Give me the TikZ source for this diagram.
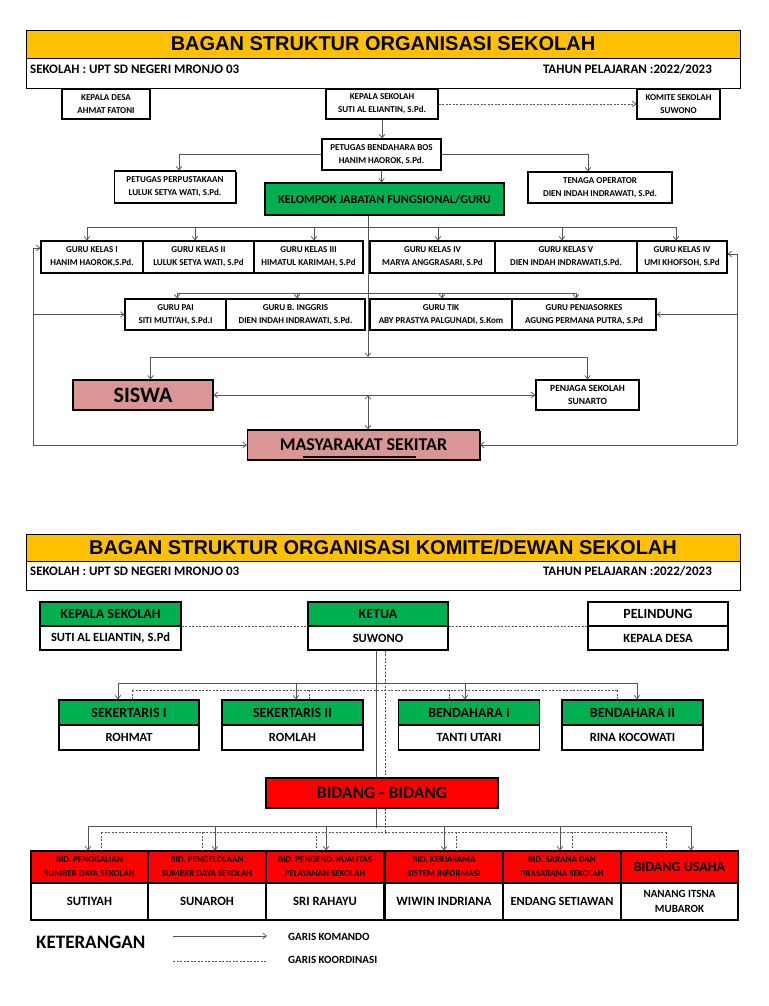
\documentclass[tikz,border=0pt]{standalone}
\usepackage{fontspec}
\setmainfont{Carlito}
\newfontfamily\arialfont{Liberation Sans}
\usetikzlibrary{arrows.meta,shadows}
\definecolor{orng}{HTML}{FFC000}
\definecolor{grn}{HTML}{00B050}
\definecolor{rose}{HTML}{DA9694}
\definecolor{redb}{HTML}{FF0000}
\definecolor{ln}{HTML}{555555}
\newcommand\myfs[2]{\fontsize{#1}{#2}\selectfont\bfseries}
\begin{document}
\begin{tikzpicture}[x=1pt,y=-1pt,
  >={Straight Barb[length=3.5pt,width=5.5pt]},
  ebox/.style={draw=black,line width=1.1pt,fill=white,inner sep=0pt,align=center,font=\myfs{9}{13}},
  sbox/.style={ebox,drop shadow={shadow xshift=1pt,shadow yshift=-1pt,fill=black,opacity=1}},
  kbox/.style={draw=black,line width=1.1pt,inner sep=0pt,align=center},
  titlebar/.style={draw=black,line width=.8pt,fill=orng,minimum width=714pt,inner sep=0pt,font=\arialfont\myfs{20}{22}},
  headbox/.style={draw=black,line width=.8pt,fill=white,minimum width=714pt,inner sep=0pt},
  headtxt/.style={inner sep=0pt,font=\myfs{13}{14}},
  cmd/.style={draw=ln,line width=.7pt,->},
  solidln/.style={draw=ln,line width=.7pt},
  dbl/.style={draw=ln,line width=.7pt,<->},
  koord/.style={draw=ln,line width=.7pt,dash pattern=on 2pt off 1.5pt},
]
\fill[white] (0,0) rectangle (768,1006);
\useasboundingbox (0,0) rectangle (768,1006);

% ================= SECTION 1 =================
\node[titlebar,minimum height=28pt] (t1) at (383,44) {BAGAN STRUKTUR ORGANISASI SEKOLAH};
\node[headbox,minimum height=30pt] (h1) at (383,73) {};
\node[headtxt,anchor=west] (h1l) at (30,69) {SEKOLAH : UPT SD NEGERI MRONJO 03};
\node[headtxt,anchor=east] (h1r) at (712,69) {TAHUN PELAJARAN :2022/2023};

% trunk and buses (drawn under boxes)
\coordinate (j1) at (368,228);
\coordinate (j3) at (368,357);
\coordinate (mid) at (368,395);

\node[sbox,minimum width=88pt,minimum height=30pt] (kdesa) at (106,104) {KEPALA DESA\\AHMAT FATONI};
\node[sbox,minimum width=112pt,minimum height=30pt] (ksek) at (382,104) {KEPALA SEKOLAH\\SUTI AL ELIANTIN, S.Pd.};
\node[sbox,minimum width=83pt,minimum height=30pt] (komite) at (678.5,104) {KOMITE SEKOLAH\\SUWONO};
\node[sbox,minimum width=119pt,minimum height=31pt] (bend) at (381.5,154.5) {PETUGAS BENDAHARA BOS\\HANIM HAOROK, S.Pd.};
\node[sbox,minimum width=121pt,minimum height=32pt] (perpus) at (175,187) {PETUGAS PERPUSTAKAAN\\LULUK SETYA WATI, S.Pd.};
\node[sbox,fill=grn,minimum width=239pt,minimum height=32pt,font=\myfs{12.3}{14}] (kjf) at (384.5,199) {KELOMPOK JABATAN FUNGSIONAL/GURU};
\node[sbox,minimum width=144pt,minimum height=31pt] (oper) at (600,187.5) {TENAGA OPERATOR\\DIEN INDAH INDRAWATI, S.Pd.};

\draw[cmd] (ksek.south) -- (ksek.south |- bend.north);
\draw[koord,->] (ksek.east) -- (komite.west);
\draw[cmd] (bend.west) -| ([xshift=4pt]perpus.north);
\draw[cmd] (bend.east) -| ([xshift=-12pt]oper.north);
\draw[cmd] (bend.south) -- (bend.south |- kjf.north);

\draw[cmd] ([xshift=-16.5pt]kjf.south) -- (j3);

% guru row 1
\node[sbox,minimum width=102pt,minimum height=32pt] (gk1) at (92,257) {GURU KELAS I\\HANIM HAOROK,S.Pd.};
\node[sbox,minimum width=111pt,minimum height=32pt] (gk2) at (198.5,257) {GURU KELAS II\\LULUK SETYA WATI, S.Pd};
\node[sbox,minimum width=109pt,minimum height=32pt] (gk3) at (308.5,257) {GURU KELAS III\\HIMATUL KARIMAH, S.Pd};
\node[sbox,minimum width=125pt,minimum height=32pt] (gk4) at (432.5,257) {GURU KELAS IV\\MARYA ANGGRASARI, S.Pd};
\node[sbox,minimum width=142pt,minimum height=32pt] (gk5) at (566,257) {GURU KELAS V\\DIEN INDAH INDRAWATI,S.Pd.};
\node[sbox,minimum width=90pt,minimum height=32pt] (gk6) at (682,257) {GURU KELAS IV\\UMI KHOFSOH, S.Pd};

\draw[solidln] ([shift={(-5,-13)}]gk1.north) -- ([shift={(-6,-13)}]gk6.north);
\foreach \n/\d in {gk1/-5,gk2/-3.5,gk3/5.5,gk4/5.5,gk5/-4,gk6/-6}
  \draw[cmd] ([shift={(\d,-13)}]\n.north) -- ([xshift=\d pt]\n.north);

% guru row 2
\node[sbox,minimum width=101pt,minimum height=31pt] (pai) at (175.5,314.5) {GURU PAI\\SITI MUTI'AH, S.Pd.I};
\node[sbox,minimum width=139pt,minimum height=31pt] (ing) at (295.5,314.5) {GURU B. INGGRIS\\DIEN INDAH INDRAWATI, S.Pd.};
\node[sbox,minimum width=142pt,minimum height=31pt] (tik) at (441,314.5) {GURU TIK\\ABY PRASTYA PALGUNADI, S.Kom};
\node[sbox,minimum width=144pt,minimum height=31pt] (pjk) at (584,314.5) {GURU PENJASORKES\\AGUNG PERMANA PUTRA, S.Pd};

\draw[solidln] ([shift={(1.5,-5)}]pai.north) -- ([shift={(-8,-5)}]pjk.north);
\foreach \n/\d in {pai/1.5,ing/1.5,tik/1,pjk/-8}
  \draw[cmd] ([shift={(\d,-5)}]\n.north) -- ([xshift=\d pt]\n.north);

% bottom of section 1
\node[sbox,fill=rose,minimum width=140pt,minimum height=30pt,font=\myfs{22}{24}] (siswa) at (143,395) {SISWA};
\node[sbox,minimum width=103pt,minimum height=30pt,font=\myfs{9.5}{13}] (penjaga) at (587.5,395) {PENJAGA SEKOLAH\\SUNARTO};
\node[sbox,fill=rose,minimum width=232pt,minimum height=30pt,font=\myfs{18}{20}] (masy) at (363.5,445) {MASYARAKAT SEKITAR};
\draw[line width=2pt] (303,457) -- (416,457);

\draw[cmd] (j3) -| ([xshift=7.5pt]siswa.north);
\draw[cmd] (j3) -| (penjaga.north);
\draw[dbl] (siswa.east) -- (penjaga.west);
\draw[dbl] (mid) -- (mid |- masy.north);

% side loops
\coordinate (L1) at (33,248);
\coordinate (L2) at (33,445);
\draw[cmd] (L1) -- ([yshift=9pt]gk1.west);
\draw[solidln] (L1) -- (L2);
\draw[cmd] (L2) -- (masy.west);
\draw[cmd] (L1 |- pai.west) -- (pai.west);
\coordinate (R1) at (737,254);
\coordinate (R2) at (737,445);
\draw[cmd] (R1) -- ([yshift=3pt]gk6.east);
\draw[solidln] (R1) -- (R2);
\draw[cmd] (R2) -- (masy.east);
\draw[cmd] (R1 |- pjk.east) -- (pjk.east);

% ================= SECTION 2 =================
\node[titlebar,minimum height=27pt] (t2) at (383,547.5) {BAGAN STRUKTUR ORGANISASI KOMITE/DEWAN SEKOLAH};
\node[headbox,minimum height=29pt] (h2) at (383,575.5) {};
\node[headtxt,anchor=west] (h2l) at (30,571) {SEKOLAH : UPT SD NEGERI MRONJO 03};
\node[headtxt,anchor=east] (h2r) at (712,571) {TAHUN PELAJARAN :2022/2023};

\node[kbox,fill=grn,minimum width=141pt,minimum height=24pt,font=\myfs{14}{16}] (ks2h) at (110.5,614) {KEPALA SEKOLAH};
\node[kbox,fill=white,minimum width=141pt,minimum height=24pt,font=\myfs{12.5}{14}] (ks2b) at (110.5,638) {SUTI AL ELIANTIN, S.Pd};
\node[kbox,fill=grn,minimum width=140pt,minimum height=24pt,font=\myfs{14}{16}] (ketuah) at (378,614) {KETUA};
\node[kbox,fill=white,minimum width=140pt,minimum height=24pt,font=\myfs{12.5}{14}] (ketuab) at (378,638) {SUWONO};
\node[kbox,fill=white,minimum width=140pt,minimum height=24pt,font=\myfs{14}{16}] (pelh) at (658,614) {PELINDUNG};
\node[kbox,fill=white,minimum width=140pt,minimum height=24pt,font=\myfs{12.5}{14}] (pelb) at (658,638) {KEPALA DESA};

\draw[koord] (ks2h.south east) -- (ketuah.south west);
\draw[koord] (ketuah.south east) -- (pelh.south west);

\node[kbox,fill=redb,minimum width=232pt,minimum height=30pt,font=\myfs{17.5}{19}] (bidang) at (382,793) {BIDANG - BIDANG};

\draw[solidln] ([xshift=-2pt]ketuab.south) -- ([xshift=-6pt]bidang.north);
\draw[koord] ([xshift=7pt]ketuab.south) -- ([xshift=3pt]bidang.north);

% sekertaris / bendahara
\node[kbox,fill=grn,minimum width=140pt,minimum height=25pt,font=\myfs{14}{16}] (sek1h) at (129,712.5) {SEKERTARIS I};
\node[kbox,fill=white,minimum width=140pt,minimum height=25pt,font=\myfs{12.5}{14}] (sek1b) at (129,737.5) {ROHMAT};
\node[kbox,fill=grn,minimum width=141pt,minimum height=25pt,font=\myfs{14}{16}] (sek2h) at (292.5,712.5) {SEKERTARIS II};
\node[kbox,fill=white,minimum width=141pt,minimum height=25pt,font=\myfs{12.5}{14}] (sek2b) at (292.5,737.5) {ROMLAH};
\node[kbox,fill=grn,minimum width=141pt,minimum height=25pt,font=\myfs{14}{16}] (ben1h) at (469,712.5) {BENDAHARA I};
\node[kbox,fill=white,minimum width=141pt,minimum height=25pt,font=\myfs{12.5}{14}] (ben1b) at (469,737.5) {TANTI UTARI};
\node[kbox,fill=grn,minimum width=141pt,minimum height=25pt,font=\myfs{14}{16}] (ben2h) at (632.5,712.5) {BENDAHARA II};
\node[kbox,fill=white,minimum width=141pt,minimum height=25pt,font=\myfs{12.5}{14}] (ben2b) at (632.5,737.5) {RINA KOCOWATI};

\draw[solidln] ([shift={(-11,-16)}]sek1h.north) -- ([shift={(4.5,-16)}]ben2h.north);
\foreach \n/\d in {sek1h/-11,sek2h/3.5,ben1h/-4,ben2h/4.5}
  \draw[cmd] ([shift={(\d,-16)}]\n.north) -- ([xshift=\d pt]\n.north);
\draw[koord] ([shift={(3,-9)}]sek1h.north) -- ([shift={(-15.5,-9)}]ben2h.north);
\foreach \n/\d in {sek1h/3,sek2h/16.5,ben1h/-20,ben2h/-15.5}
  \draw[koord] ([shift={(\d,-9)}]\n.north) -- ([xshift=\d pt]\n.north);

% bidang row
\node[kbox,fill=redb,minimum width=117pt,minimum height=32pt,font=\myfs{9}{14}] (b1h) at (89.5,867) {BID. PENGGALIAN\\SUMBER DAYA SEKOLAH};
\node[kbox,fill=redb,minimum width=118pt,minimum height=32pt,font=\myfs{9}{14}] (b2h) at (207,867) {BID. PENGELOLAAN\\SUMBER DAYA SEKOLAH};
\node[kbox,fill=redb,minimum width=118pt,minimum height=32pt,font=\myfs{9}{14}] (b3h) at (325,867) {BID. PENGEND. KUALITAS\\PELAYANAN SEKOLAH};
\node[kbox,fill=redb,minimum width=118pt,minimum height=32pt,font=\myfs{9}{14}] (b4h) at (444,867) {BID. KERJASAMA\\SISTEM INFORMASI};
\node[kbox,fill=redb,minimum width=118pt,minimum height=32pt,font=\myfs{9}{14}] (b5h) at (562,867) {BID. SARANA DAN\\PRASARANA SEKOLAH};
\node[kbox,fill=redb,minimum width=117pt,minimum height=32pt,font=\myfs{14}{16}] (b6h) at (679.5,867) {BIDANG USAHA};
\node[kbox,fill=white,minimum width=117pt,minimum height=37pt,font=\myfs{12.7}{15}] (b1b) at (89.5,901.5) {SUTIYAH};
\node[kbox,fill=white,minimum width=118pt,minimum height=37pt,font=\myfs{12.7}{15}] (b2b) at (207,901.5) {SUNAROH};
\node[kbox,fill=white,minimum width=118pt,minimum height=37pt,font=\myfs{12.7}{15}] (b3b) at (325,901.5) {SRI RAHAYU};
\node[kbox,fill=white,minimum width=118pt,minimum height=37pt,font=\myfs{12.7}{15}] (b4b) at (444,901.5) {WIWIN INDRIANA};
\node[kbox,fill=white,minimum width=118pt,minimum height=37pt,font=\myfs{12.4}{15}] (b5b) at (562,901.5) {ENDANG SETIAWAN};
\node[kbox,fill=white,minimum width=117pt,minimum height=37pt,font=\myfs{11}{15.5}] (b6b) at (679.5,901.5) {NANANG ITSNA\\MUBAROK};

\draw[solidln] ([xshift=-6pt]bidang.south) -- ([shift={(-6,19)}]bidang.south);
\draw[koord] ([xshift=3pt]bidang.south) -- ([shift={(3,25)}]bidang.south);
\draw[solidln] ([shift={(-1.5,-24)}]b1h.north) -- ([shift={(11.5,-24)}]b6h.north);
\foreach \n/\d in {b1h/-1.5,b2h/8,b3h/1,b4h/0,b5h/-2,b6h/11.5}
  \draw[cmd] ([shift={(\d,-24)}]\n.north) -- ([xshift=\d pt]\n.north);
\draw[koord] ([shift={(11.5,-18)}]b1h.north) -- ([shift={(-13.5,-18)}]b6h.north);
\foreach \n/\d in {b1h/11.5,b2h/-5,b3h/-9,b4h/12,b5h/10,b6h/-13.5}
  \draw[koord] ([shift={(\d,-18)}]\n.north) -- ([xshift=\d pt]\n.north);

% legend
\node[anchor=west,inner sep=0pt,font=\myfs{19}{21}] (ket) at (36,942) {KETERANGAN};
\coordinate (la1) at (173,936);
\coordinate (la2) at (267,936);
\draw[cmd] (la1) -- (la2);
\node[anchor=west,inner sep=0pt,font=\myfs{11}{12}] (lk) at (288,937) {GARIS KOMANDO};
\coordinate (ld1) at (173,961);
\coordinate (ld2) at (267,961);
\draw[koord] (ld1) -- (ld2);
\node[anchor=west,inner sep=0pt,font=\myfs{11}{12}] (lko) at (288,960) {GARIS KOORDINASI};
\end{tikzpicture}
\end{document}
